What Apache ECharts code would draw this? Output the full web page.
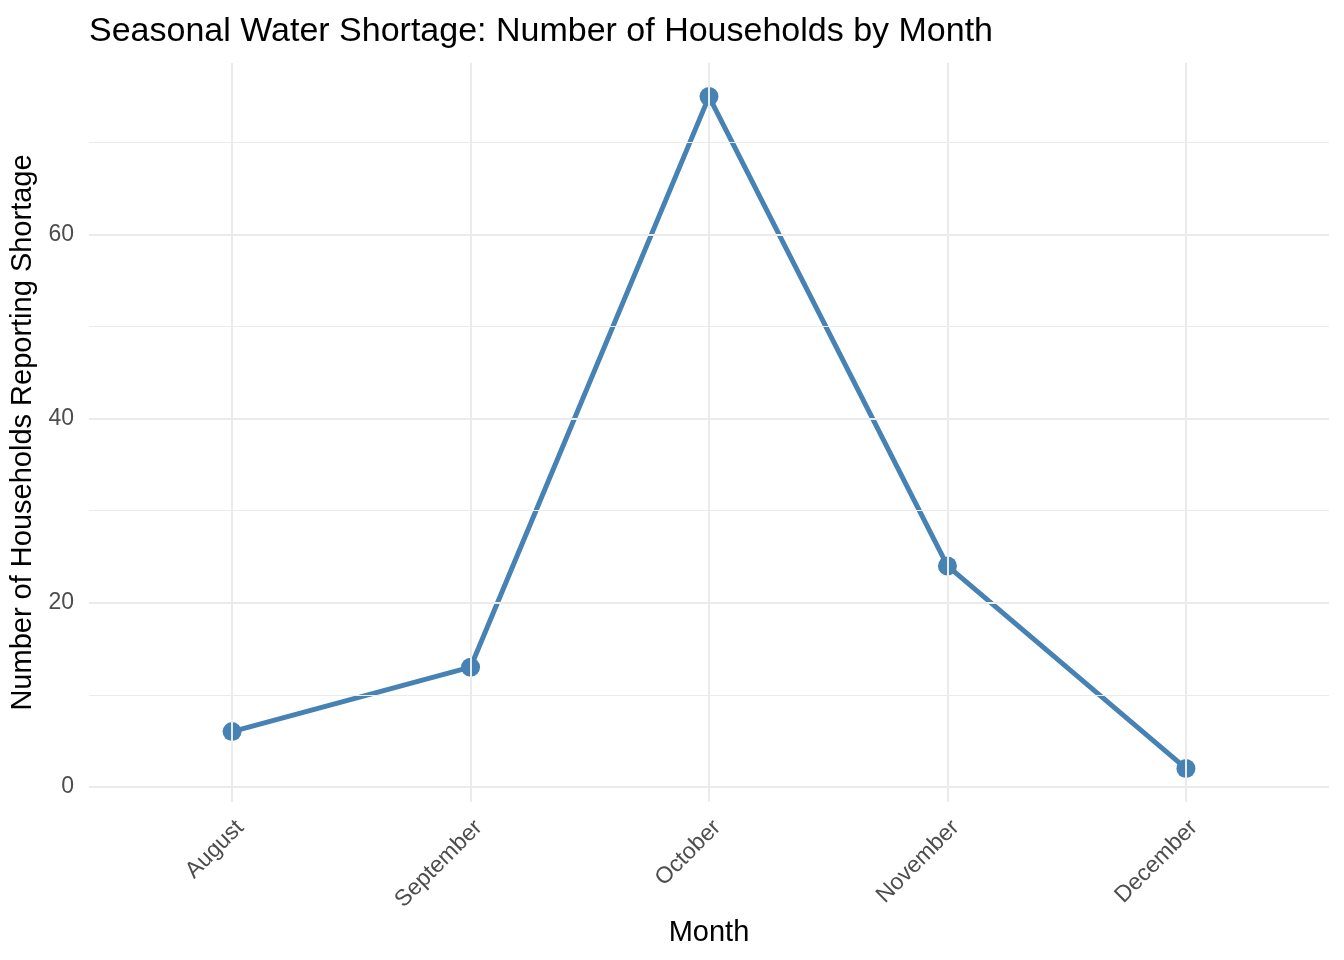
<!DOCTYPE html>
<html><head><meta charset="utf-8">
<script src="https://cdn.jsdelivr.net/npm/echarts@6/dist/echarts.min.js"></script>
<style>html,body{margin:0;padding:0;background:#fff}#c{width:1344px;height:960px}</style>
</head><body><div id="c"></div>
<script>
const months = ['August', 'September', 'October', 'November', 'December'];
const households = [6, 13, 75, 24, 2];
const yMajorTicks = [0, 20, 40, 60];
const yMinorTicks = [10, 30, 50, 70];
const yRange = [-1.65, 78.65];
const xRange = [-0.6, 4.6];

const FONT = '"Liberation Sans", Arial, sans-serif';
const GRID = '#EBEBEB';
const chart = echarts.init(document.getElementById('c'));

const gridLines = [
  ...yMajorTicks.map(v => ({ yAxis: v, lineStyle: { width: 2 } })),
  ...yMinorTicks.map(v => ({ yAxis: v, lineStyle: { width: 1 } })),
  ...months.map((m, i) => ({ xAxis: i, lineStyle: { width: 2 } }))
];
const isInt = v => Math.abs(v - Math.round(v)) < 1e-6;

const option = {
  backgroundColor: '#fff',
  animation: false,
  title: {
    text: 'Seasonal Water Shortage: Number of Households by Month',
    left: 84, top: 10,
    textStyle: { fontFamily: FONT, fontSize: 34, fontWeight: 'normal', color: '#000' }
  },
  grid: { left: 89, right: 15, top: 63, bottom: 158, containLabel: false, outerBoundsMode: 'none' },
  xAxis: {
    type: 'value', min: xRange[0], max: xRange[1],
    name: 'Month', nameLocation: 'middle', nameGap: 115,
    nameTextStyle: { fontFamily: FONT, fontSize: 29, color: '#000' },
    axisLine: { show: false }, axisTick: { show: false }, splitLine: { show: false },
    axisLabel: {
      rotate: 45, margin: 14, verticalAlign: 'top', fontFamily: FONT, fontSize: 23, color: '#4D4D4D',
      formatter: v => (isInt(v) && months[Math.round(v)] !== undefined) ? months[Math.round(v)] : ''
    }
  },
  yAxis: {
    type: 'value', min: yRange[0], max: yRange[1],
    name: 'Number of Households Reporting Shortage', nameLocation: 'middle', nameGap: 45,
    nameTextStyle: { fontFamily: FONT, fontSize: 29, color: '#000' },
    axisLine: { show: false }, axisTick: { show: false }, splitLine: { show: false },
    axisLabel: {
      margin: 15, fontFamily: FONT, fontSize: 23, color: '#4D4D4D', padding: [3, 0, 0, 0],
      formatter: v => (isInt(v) && yMajorTicks.includes(Math.round(v))) ? String(Math.round(v)) : ''
    }
  },
  series: [
    {
      type: 'line', data: [], z: 1, silent: true,
      markLine: {
        silent: true, symbol: ['none', 'none'], label: { show: false },
        lineStyle: { color: GRID, type: 'solid' },
        emphasis: { disabled: true },
        data: gridLines
      }
    },
    {
      type: 'line', z: 3,
      data: households.map((v, i) => [i, v]),
      symbol: 'circle', symbolSize: 19,
      itemStyle: { color: '#4682B4' },
      lineStyle: { color: '#4682B4', width: 5 }
    }
  ]
};
chart.setOption(option);
</script></body></html>
